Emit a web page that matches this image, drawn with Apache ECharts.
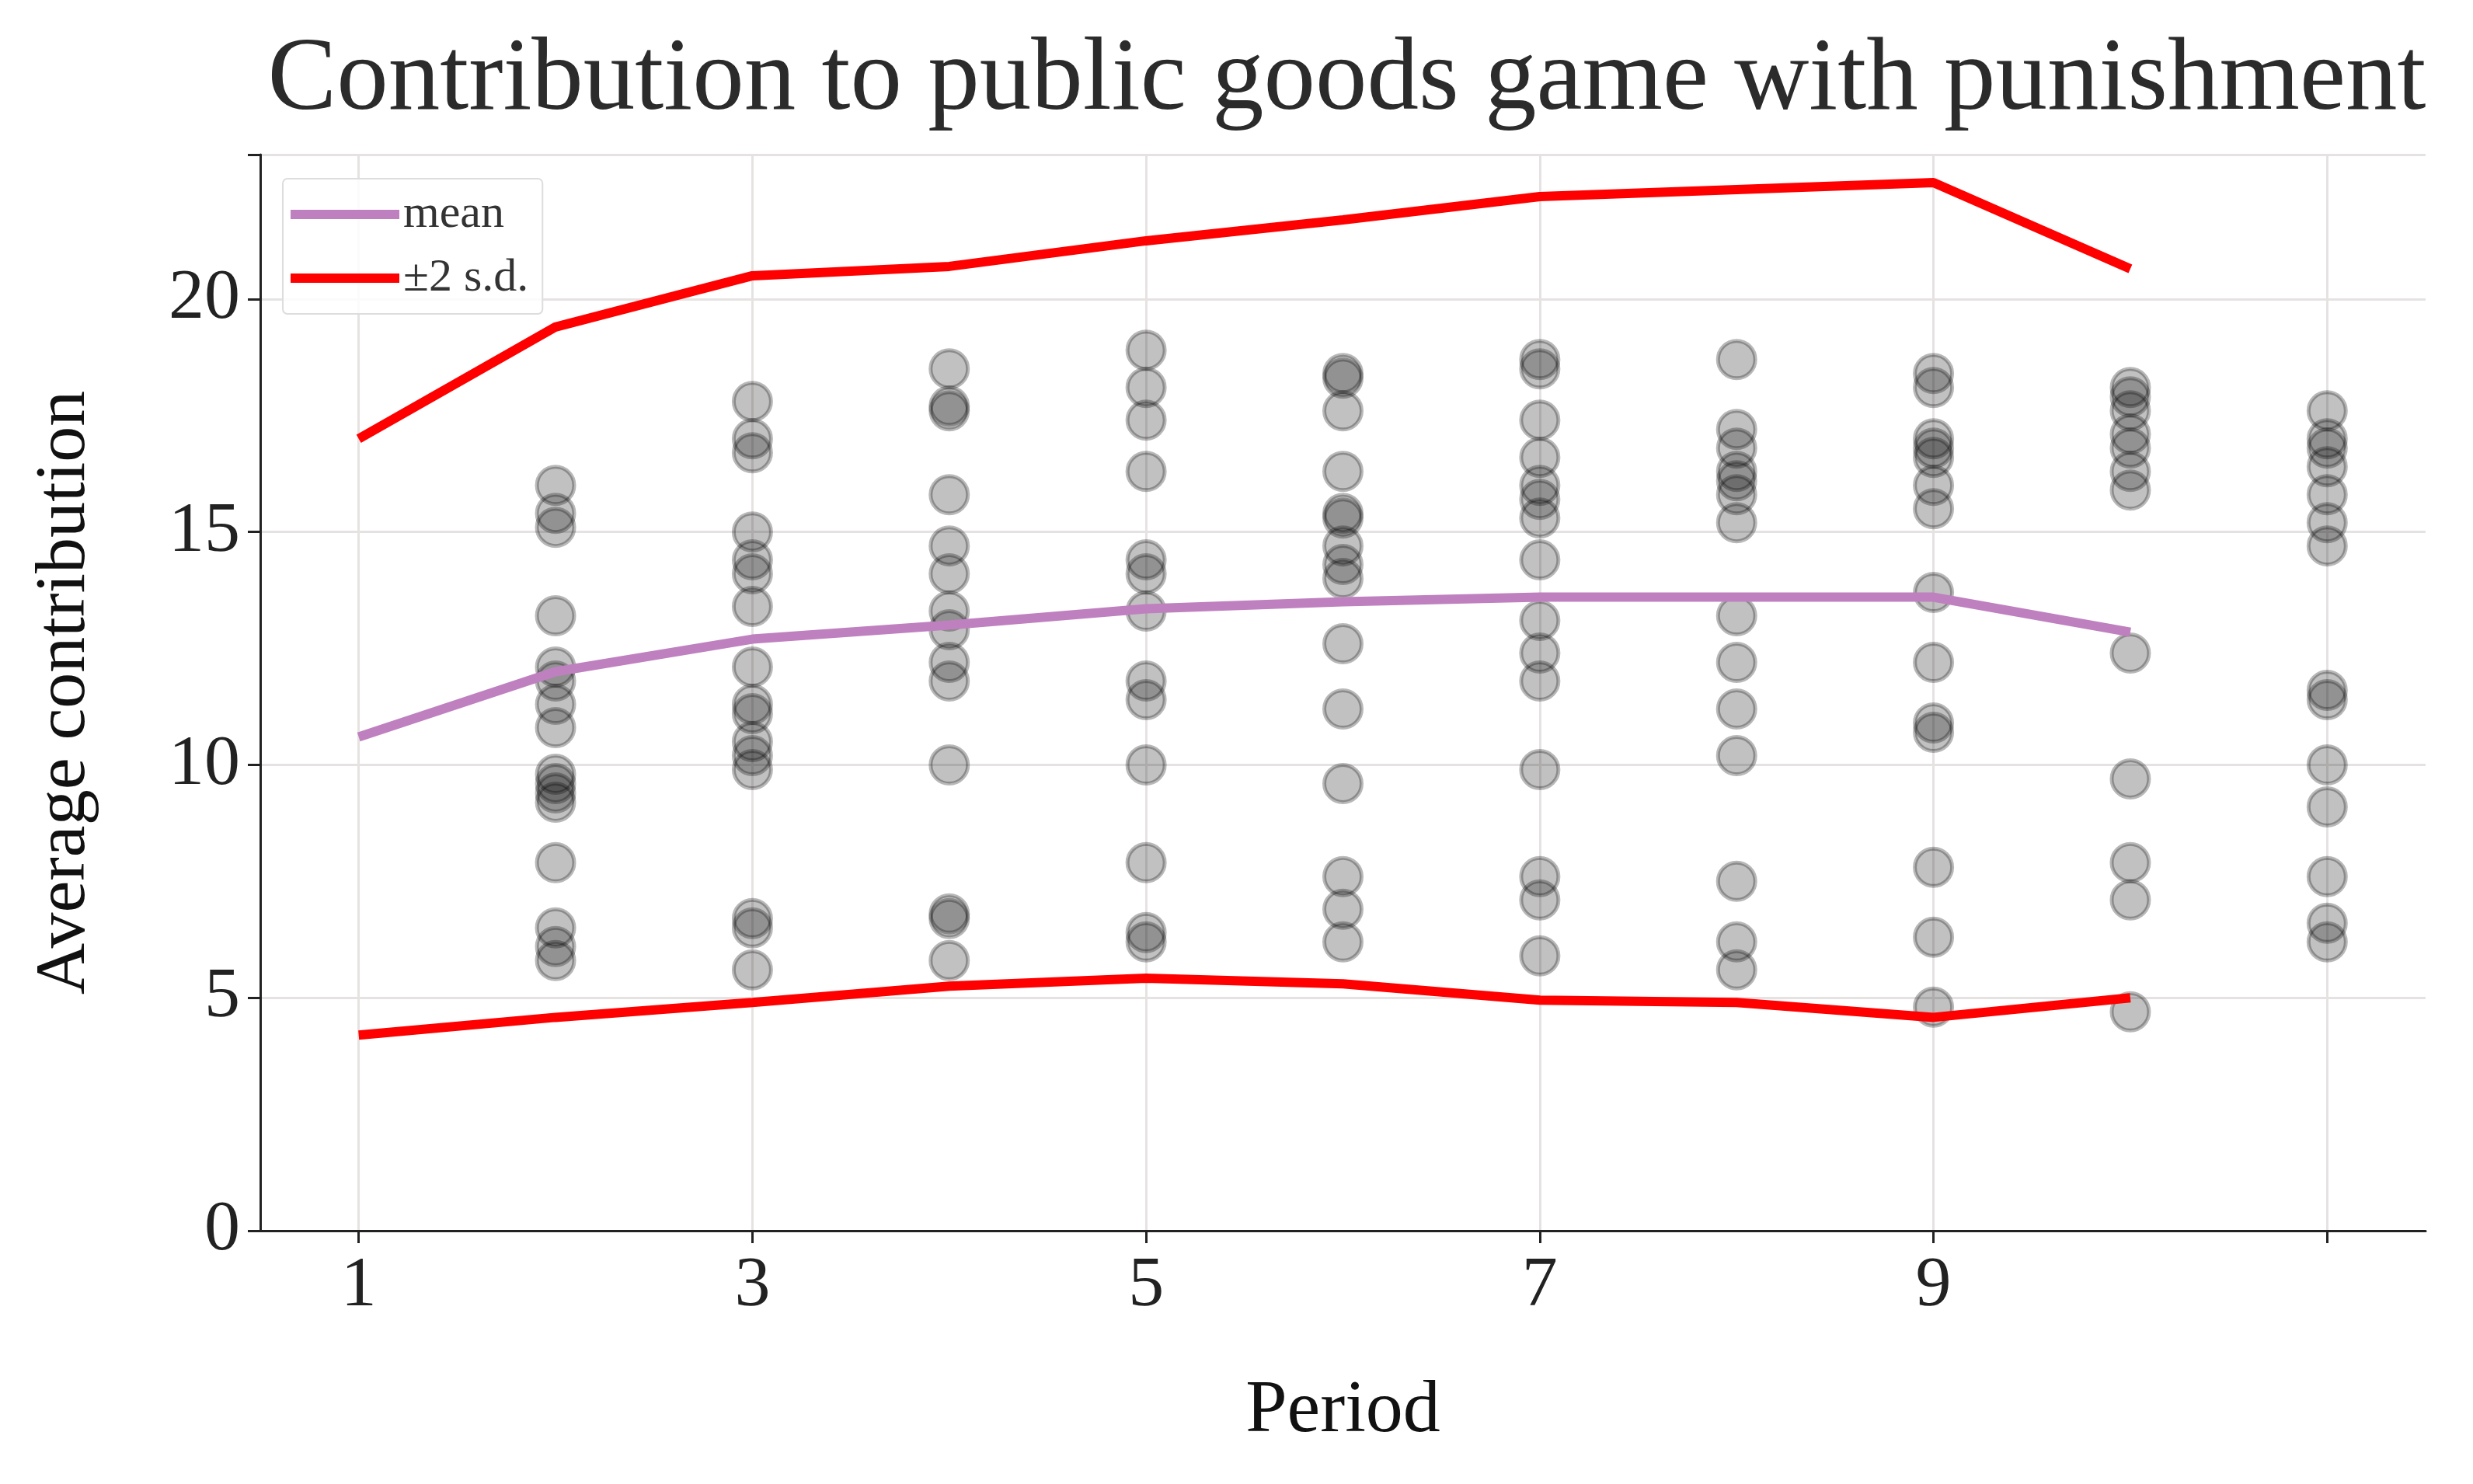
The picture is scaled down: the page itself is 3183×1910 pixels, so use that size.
<!DOCTYPE html>
<html>
<head>
<meta charset="utf-8">
<script src="https://cdn.jsdelivr.net/npm/echarts@6/dist/echarts.min.js"></script>
<style>html,body{margin:0;padding:0;background:#fff}#chart{width:3183px;height:1910px}</style>
</head>
<body>
<div id="chart"></div>
<script>
// per-period group averages
var periods = [1, 2, 3, 4, 5, 6, 7, 8, 9, 10]
var meanLine = [10.6, 12.0, 12.7, 13.0, 13.35, 13.5, 13.6, 13.6, 13.6, 12.85]
var upperLine = [17.0, 19.4, 20.5, 20.7, 21.25, 21.7, 22.2, 22.35, 22.5, 20.65]
var lowerLine = [4.2, 4.58, 4.9, 5.25, 5.42, 5.3, 4.95, 4.9, 4.58, 5.0]

var groupPeriods = [2, 3, 4, 5, 6, 7, 8, 9, 10, 11]
var groupValues = [
    [16.0, 15.4, 15.1, 13.2, 12.1, 11.8, 11.3, 10.8, 9.8, 9.6, 9.4, 9.2, 7.9, 6.5, 6.1, 5.8],
    [17.8, 17.0, 16.7, 15.0, 14.4, 14.1, 13.4, 12.1, 11.3, 11.1, 10.5, 10.2, 9.9, 6.7, 6.5, 5.6],
    [18.5, 17.7, 17.6, 15.8, 14.7, 14.1, 13.3, 12.9, 12.2, 11.8, 10.0, 6.8, 6.7, 5.8],
    [18.9, 18.1, 17.4, 16.3, 14.4, 14.1, 13.3, 11.8, 11.4, 10.0, 7.9, 6.4, 6.2],
    [18.4, 18.3, 17.6, 16.3, 15.4, 15.3, 14.7, 14.3, 14.0, 12.6, 11.2, 9.6, 7.6, 6.9, 6.2],
    [18.7, 18.5, 17.4, 16.6, 16.0, 15.7, 15.3, 14.4, 13.1, 12.4, 11.8, 9.9, 7.6, 7.1, 5.9],
    [18.7, 17.2, 16.8, 16.3, 16.1, 15.8, 15.2, 13.2, 12.2, 11.2, 10.2, 7.5, 6.2, 5.6],
    [18.4, 18.1, 17.0, 16.8, 16.6, 16.0, 15.5, 13.7, 12.2, 10.9, 10.7, 7.8, 6.3, 4.8],
    [18.1, 17.9, 17.6, 17.1, 16.8, 16.3, 15.9, 12.4, 9.7, 7.9, 7.1, 4.7],
    [17.6, 17.0, 16.8, 16.4, 15.8, 15.2, 14.7, 11.6, 11.4, 10.0, 9.1, 7.6, 6.6, 6.2]
]
var xTicks = [1, 3, 5, 7, 9, 11]
var xLabels = [1, 3, 5, 7, 9]

var scatterData = []
for (var i in groupPeriods) {
    for (var j in groupValues[i]) {
        scatterData.push([groupPeriods[i], groupValues[i][j]])
    }
}
var pair = function (ys) {
    return periods.map(function (p, k) { return [p, ys[k]] })
}

var font = 'Liberation Serif'
var chart = echarts.init(document.getElementById('chart'))
var option = {
    animation: false,
    backgroundColor: '#fff',
    textStyle: { fontFamily: font },
    title: {
        text: 'Contribution to public goods game with punishment',
        left: 335 + (3122 - 335) / 2,
        textAlign: 'center',
        top: 34,
        textStyle: { fontFamily: font, fontSize: 133, fontWeight: 'normal', color: '#2b2b2b' }
    },
    legend: {
        left: 364, top: 230,
        orient: 'vertical',
        itemWidth: 140, itemHeight: 12, itemGap: 22,
        padding: [16, 18, 16, 10],
        borderColor: '#ddd', borderWidth: 2, borderRadius: 6,
        backgroundColor: 'rgba(255,255,255,0.85)',
        textStyle: { fontFamily: font, fontSize: 60, color: '#333' },
        data: [
            { name: 'mean', icon: 'rect' },
            { name: '\u00b12 s.d.', icon: 'rect' }
        ]
    },
    grid: { left: 335, right: 61, top: 199, bottom: 326 },
    xAxis: {
        type: 'value', min: 0.5, max: 11.5,
        name: 'Period', nameLocation: 'middle', nameGap: 185,
        nameTextStyle: { fontFamily: font, fontSize: 96, color: '#111' },
        axisLine: { lineStyle: { color: '#222', width: 3 } },
        axisTick: { customValues: xTicks, length: 16, lineStyle: { color: '#222', width: 3 } },
        axisLabel: { customValues: xLabels, fontFamily: font, fontSize: 92, color: '#222', margin: 26 },
        splitLine: { show: true, lineStyle: { color: '#e6e2e2', width: 3 } }
    },
    yAxis: {
        type: 'value', min: 0, max: 23.1, interval: 5,
        name: 'Average contribution', nameLocation: 'middle', nameGap: 205,
        nameTextStyle: { fontFamily: font, fontSize: 92, color: '#111' },
        axisLine: { show: true, lineStyle: { color: '#222', width: 3 } },
        axisTick: { show: true, length: 16, lineStyle: { color: '#222', width: 3 } },
        axisLabel: {
            fontFamily: font, fontSize: 92, color: '#222', margin: 26,
            formatter: function (v) { return v % 5 === 0 ? v : '' }
        },
        splitLine: { show: true, lineStyle: { color: '#e6e2e2', width: 3 } }
    },
    series: [
        {
            type: 'scatter', name: 'groups', symbolSize: 48,
            itemStyle: { color: 'rgba(0,0,0,0.3)', borderColor: 'rgba(0,0,0,0.35)', borderWidth: 5 },
            data: scatterData, z: 2
        },
        {
            type: 'line', name: 'mean', showSymbol: false, symbol: 'none',
            lineStyle: { color: '#bf80bf', width: 12 }, itemStyle: { color: '#bf80bf' },
            data: pair(meanLine), z: 3
        },
        {
            type: 'line', name: '\u00b12 s.d.', showSymbol: false, symbol: 'none',
            lineStyle: { color: '#ff0000', width: 12 }, itemStyle: { color: '#ff0000' },
            data: pair(upperLine), z: 3
        },
        {
            type: 'line', name: '\u00b12 s.d.', showSymbol: false, symbol: 'none',
            lineStyle: { color: '#ff0000', width: 12 }, itemStyle: { color: '#ff0000' },
            data: pair(lowerLine), z: 3
        }
    ]
}
chart.setOption(option)
</script>
</body>
</html>
